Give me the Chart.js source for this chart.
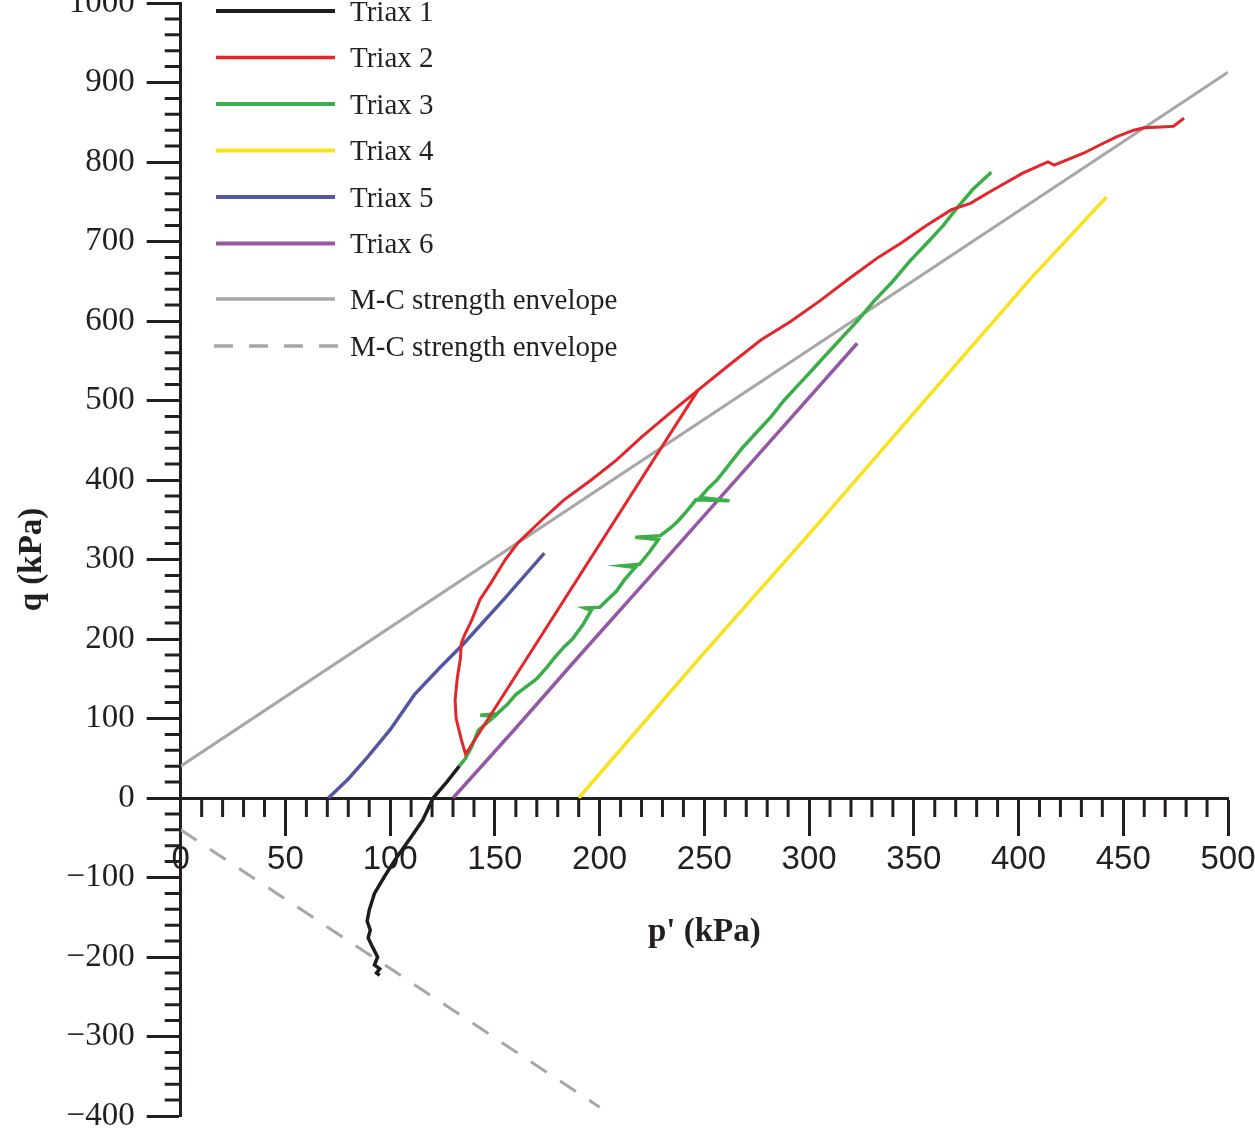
<!DOCTYPE html>
<html>
<head>
<meta charset="utf-8">
<script src="https://cdn.jsdelivr.net/npm/chart.js@4/dist/chart.umd.min.js"></script>
<style>
  html, body { margin: 0; padding: 0; background: #fff; }
  canvas { display: block; }
</style>
</head>
<body>
<canvas id="chart1" width="1255" height="1131"></canvas>
<script>
// series names, as in the legend
const seriesLabels = ['Triax 1', 'Triax 2', 'Triax 3', 'Triax 4', 'Triax 5', 'Triax 6',
  'M-C strength envelope', 'M-C strength envelope'];

// p' (kPa) and q (kPa) of each test
const triax1P = [133, 127, 120.5, 115.5, 110, 103, 97, 92.5, 90, 89, 90.5, 89.5, 91.5, 94, 92.5, 95, 93.5, 95];
const triax1Q = [40, 20, 0, -28, -49, -75, -100, -120, -141, -155, -166, -176, -187, -200, -210, -215, -220, -223];

const triax2P = [247, 136, 134, 131.5, 131, 132, 133.5, 134, 135.5, 139, 143, 148, 155, 161, 172.5, 183, 196, 208, 220, 234, 247,
  262, 277, 291, 305, 320, 333, 344, 356, 368, 377, 388, 402, 414, 417, 431, 440, 447, 455, 460, 468, 474, 479];
const triax2Q = [513, 55, 73, 100, 123, 150, 175, 195, 205, 224, 250, 270, 300, 321, 350, 375, 400, 425, 454, 485, 513,
  545, 576, 599, 625, 655, 680, 698, 720, 740, 748, 765, 786, 800, 796, 811, 823, 832, 840, 843, 844, 845, 855];

const triax3P = [133, 136, 139, 142, 150, 143, 151, 156, 160, 166, 170, 175, 178, 183, 187, 192, 196, 193, 200, 204, 208, 212,
  217, 211, 219, 224, 228, 217, 229, 234, 238, 242, 246, 262, 248, 252, 256, 262, 268, 275, 282, 288, 295, 302, 309, 316, 323,
  331, 340, 348, 357, 364, 370, 378, 387];
const triax3Q = [40, 50, 65, 85, 103, 104, 106, 118, 130, 142, 150, 165, 175, 190, 200, 218, 236, 239, 240, 250, 260, 275,
  290, 292, 294, 310, 325, 328, 330, 340, 350, 362, 375, 374, 378, 390, 400, 420, 440, 460, 480, 500, 520, 540, 560, 580, 600,
  625, 650, 675, 700, 720, 740, 765, 787];

const triax4P = [190, 248, 300, 350, 406, 442];
const triax4Q = [0, 177, 332, 484, 654, 756];

const triax5P = [70.5, 80, 89.4, 100, 111.6, 123, 135.4, 155, 173.6];
const triax5Q = [0, 24, 52, 86, 130, 162, 195, 252, 308];

const triax6P = [130, 160, 190, 230, 260, 290, 323];
const triax6Q = [0, 88, 178, 296, 385, 474, 572];

// Mohr-Coulomb envelope, compression and extension branches
const envelopeP = [0, 500];
const envelopeQ = [40, 913];
const envelopeExtP = [0, 200];
const envelopeExtQ = [-40, -389];

// axis ticks
const xTicks = { min: 0, max: 500, major: 50, minor: 10 };
const yTicks = { min: -400, max: 1000, major: 100, minor: 20 };

const INK = '#231f20';
const colors = ['#1d1d1b', '#e3262b', '#3cae49', '#f9e11c', '#5257a4', '#9558a6', '#a7a7a7', '#a7a7a7'];
const widths = [3.5, 3, 3.5, 3.5, 3.5, 3.5, 3, 3];

function pts(ps, qs) {
  return ps.map((p, i) => ({ x: p, y: qs[i] }));
}

const series = [
  pts(triax1P, triax1Q), pts(triax2P, triax2Q), pts(triax3P, triax3Q), pts(triax4P, triax4Q),
  pts(triax5P, triax5Q), pts(triax6P, triax6Q), pts(envelopeP, envelopeQ), pts(envelopeExtP, envelopeExtQ)
];

const datasets = series.map((d, i) => ({
  label: seriesLabels[i],
  data: d,
  showLine: true,
  borderColor: colors[i],
  backgroundColor: colors[i],
  borderWidth: widths[i],
  borderDash: i === 7 ? [19, 16] : [],
  pointRadius: 0,
  tension: 0,
  fill: false
}));

// minor ticks on both axes
const minorTicks = {
  id: 'minorTicks',
  afterDraw(chart) {
    const { ctx, scales: { x, y } } = chart;
    const y0 = y.getPixelForValue(0);
    const x0 = x.getPixelForValue(0);
    ctx.save();
    ctx.strokeStyle = INK;
    ctx.lineWidth = 3;
    ctx.beginPath();
    for (let v = xTicks.min + xTicks.minor; v < xTicks.max; v += xTicks.minor) {
      if (v % xTicks.major === 0) continue;
      const px = x.getPixelForValue(v);
      ctx.moveTo(px, y0);
      ctx.lineTo(px, y0 + 19);
    }
    for (let v = yTicks.min + yTicks.minor; v < yTicks.max; v += yTicks.minor) {
      if (v % yTicks.major === 0) continue;
      const py = y.getPixelForValue(v);
      ctx.moveTo(x0 - 16, py);
      ctx.lineTo(x0, py);
    }
    ctx.stroke();
    ctx.restore();
  }
};

// legend drawn inside the plot, line sample + text
const insideLegend = {
  id: 'insideLegend',
  afterDraw(chart) {
    const ctx = chart.ctx;
    ctx.save();
    ctx.font = '29px "Liberation Serif", "Times New Roman", serif';
    ctx.fillStyle = INK;
    ctx.textBaseline = 'middle';
    chart.data.datasets.forEach((ds, i) => {
      const yy = i < 6 ? 11 + i * 46.5 : 299 + (i - 6) * 47;
      ctx.strokeStyle = ds.borderColor;
      ctx.lineWidth = ds.borderWidth + 0.5;
      ctx.setLineDash(ds.borderDash);
      ctx.beginPath();
      if (ds.borderDash.length) {
        ctx.moveTo(214, yy);
        ctx.lineTo(338, yy);
      } else {
        ctx.moveTo(216, yy);
        ctx.lineTo(335, yy);
      }
      ctx.stroke();
      ctx.setLineDash([]);
      ctx.fillText(ds.label, 350, yy + 2);
    });
    ctx.restore();
  }
};

const chart1 = new Chart(document.getElementById('chart1'), {
  type: 'scatter',
  data: { datasets: datasets },
  plugins: [minorTicks, insideLegend],
  options: {
    responsive: false,
    animation: false,
    devicePixelRatio: 1,
    layout: { padding: { left: 0, right: 27, top: 0, bottom: 0 } },
    plugins: { legend: { display: false }, tooltip: { enabled: false } },
    scales: {
      x: {
        type: 'linear',
        min: xTicks.min,
        max: xTicks.max,
        position: { y: 0 },
        afterFit(scale) {
          // last label may run to the canvas edge
          scale.paddingLeft = 0;
          scale.paddingRight = 0;
        },
        ticks: {
          stepSize: xTicks.major,
          color: INK,
          padding: 6,
          maxRotation: 0,
          font: { family: '"Liberation Sans", Arial, sans-serif', size: 33 }
        },
        grid: { drawOnChartArea: false, tickLength: 36, tickWidth: 3, tickColor: INK },
        border: { color: INK, width: 3 },
        title: {
          display: true,
          text: "p' (kPa)",
          color: INK,
          padding: { top: 27, bottom: 0 },
          font: { family: '"Liberation Serif", "Times New Roman", serif', size: 33, weight: 'bold' }
        }
      },
      y: {
        type: 'linear',
        min: yTicks.min,
        max: yTicks.max,
        position: 'left',
        afterFit(scale) {
          // let the top label run off the canvas like the original
          scale.paddingTop = 3;
          scale.paddingBottom = 15;
        },
        ticks: {
          stepSize: yTicks.major,
          color: INK,
          padding: 12,
          font: { family: '"Liberation Serif", "Times New Roman", serif', size: 33 },
          callback: v => v < 0 ? '\u2212' + (-v) : String(v)
        },
        grid: { drawOnChartArea: false, tickLength: 34, tickWidth: 3, tickColor: INK },
        border: { color: INK, width: 3 },
        title: {
          display: true,
          text: 'q (kPa)',
          color: INK,
          padding: { top: 13, bottom: 2 },
          font: { family: '"Liberation Serif", "Times New Roman", serif', size: 33, weight: 'bold' }
        }
      }
    }
  }
});
</script>
</body>
</html>
